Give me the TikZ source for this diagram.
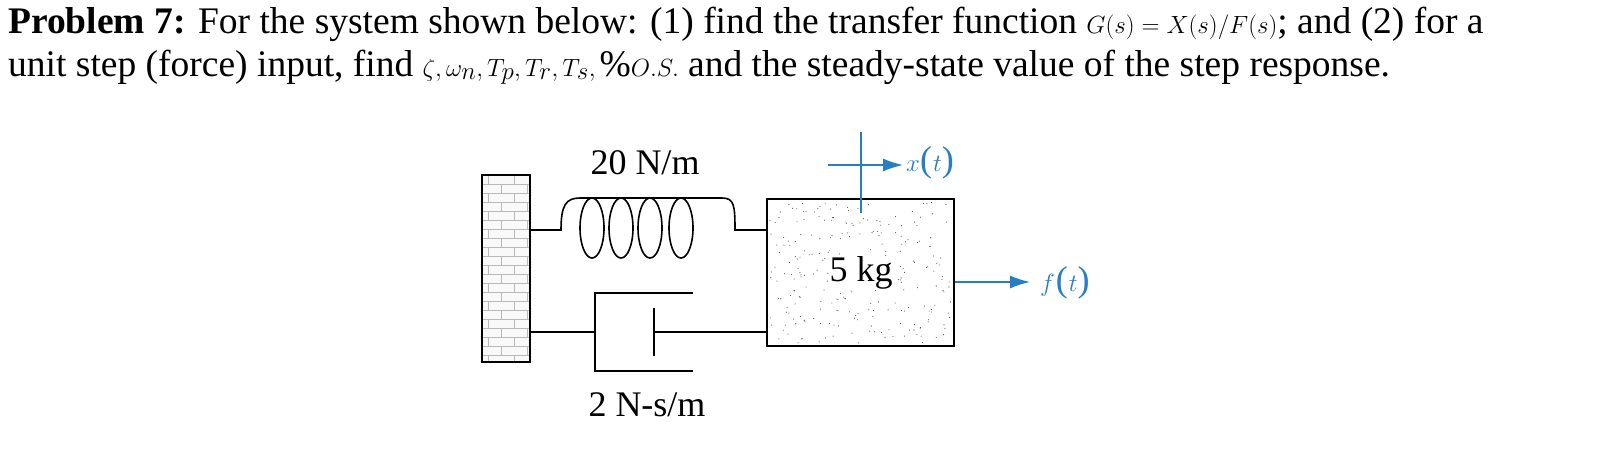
\documentclass[tikz,border=0pt]{standalone}
\usepackage{fontspec}
\setmainfont{Liberation Serif}
\usetikzlibrary{arrows.meta}
\definecolor{arrblue}{RGB}{40,125,195}
\begin{document}
\begin{tikzpicture}[x=1pt,y=-1pt,
  line/.style={line width=1.6pt,black},
  blue/.style={line width=1.6pt,arrblue},
  lbl/.style={font=\fontsize{36}{40}\selectfont,inner sep=0pt},
  ttl/.style={font=\fontsize{37.5}{44}\selectfont,inner sep=0pt,anchor=base west}]
\useasboundingbox (0,0) rectangle (1609,450);
% title
\node[ttl] (t1) at (8,33) {\textbf{Problem 7:} For the system shown below: (1) find the transfer function $G(s)=X(s)/F(s)$; and (2) for a};
\node[ttl] (t2) at (8,76) {unit step (force) input, find $\zeta,\omega_n,T_p,T_r,T_s,\%O.S.$ and the steady-state value of the step response.};
% wall
\node[draw=none,fill=gray!5,minimum width=48pt,minimum height=187pt,inner sep=0pt] (wall) at (506,268.5) {};
\begin{scope}
\clip (482,175) rectangle (530,362);
\foreach \i in {0,...,21}{
  \pgfmathsetmacro{\yy}{175+9*\i}
  \draw[gray!55,line width=0.7pt] (482,\yy) -- (530,\yy);
  \pgfmathsetmacro{\off}{mod(\i,2)==0 ? 0 : 13}
  \foreach \k in {-1,0,1,2}{
    \draw[gray!55,line width=0.7pt] ({482+\off+26*\k+6},\yy) -- ({482+\off+26*\k+6},{\yy+9});
  }
}
\end{scope}
\draw[line] (482,175) rectangle (530,362);
% mass
\node[draw,line width=1.6pt,fill=white,minimum width=187pt,minimum height=147pt,inner sep=0pt] (mass) at (860.5,272.5) {};
\pgfmathsetseed{7}
\foreach \n in {1,...,260}{
  \fill[black!70] ({770+181*rnd},{202+141*rnd}) circle (0.55pt);
}
\node[lbl,fill=white,inner sep=1pt] (mlbl) at (861,273) {5 kg};
% spring
\draw[line] (wall.east |- 0,230) -- (561,230) .. controls (561,205) and (566,198) .. (580,198) -- (722,198) .. controls (734,198) and (735,205) .. (735,230) -- (mass.west |- 0,230);
\foreach \c in {592,621,650,681}{
  \draw[line] (\c,228) ellipse (12pt and 30pt);
}
\node[lbl] (klbl) at (645,163) {20 N/m};
% damper
\draw[line] (wall.east |- 0,332) -- (595,332);
\draw[line] (693,293) -- (595,293) -- (595,371) -- (693,371);
\draw[line] (654,308) -- (654,356);
\draw[line] (654,332) -- (mass.west |- 0,332);
\node[lbl] (clbl) at (647,405) {2 N-s/m};
% x(t)
\coordinate (xv1) at (861,132);
\coordinate (xv2) at (861,213);
\draw[blue] (xv1) -- (xv2);
\coordinate (xa) at (828,165);
\coordinate (xb) at (903,165);
\draw[blue,-{Latex[length=20pt,width=13pt]}] (xa) -- (xb);
\node[lbl,text=arrblue,anchor=west] (xlbl) at (906,163) {$x$(\kern1pt$t$)};
% f(t)
\coordinate (fb) at (1030,282);
\draw[blue,-{Latex[length=20pt,width=13pt]}] (mass.east |- 0,282) -- (fb);
\node[lbl,text=arrblue,anchor=west] (flbl) at (1040,283) {$f$\kern1pt(\kern1pt$t$)};
\end{tikzpicture}
\end{document}
